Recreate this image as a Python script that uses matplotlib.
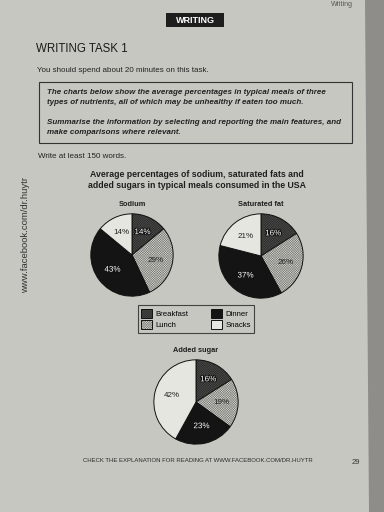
import matplotlib.pyplot as plt
from matplotlib.patches import Rectangle, Polygon
from matplotlib.colors import to_rgba
import matplotlib.patheffects as pe

plt.rcParams['font.family'] = ['Liberation Sans', 'DejaVu Sans']
plt.rcParams['hatch.linewidth'] = 0.35

# Data
meals = ['Breakfast', 'Lunch', 'Dinner', 'Snacks']
sodium = [14, 29, 43, 14]
saturated_fat = [16, 26, 37, 21]
added_sugar = [16, 19, 23, 42]

W, H = 384, 512
PAPER = '#c7c7c1'
fig = plt.figure(figsize=(W / 100, H / 100), dpi=100, facecolor=PAPER)

# overlay axes in pixel coordinates
bg = fig.add_axes([0, 0, 1, 1])
bg.set_xlim(0, W)
bg.set_ylim(H, 0)
bg.axis('off')

# dark strip beyond the page edge
bg.add_patch(Polygon([[365, 0], [384, 0], [384, 512], [369, 512]], closed=True,
                     facecolor='#8e8d89', edgecolor='none'))

# running head
bg.text(331, 4, 'Writing', fontsize=5, va='center', color='#555555')

# header block
bg.add_patch(Rectangle((166, 13), 58, 14, facecolor='#1e1e1e', edgecolor='none'))
bg.text(195, 20.5, 'WRITING', color='white', fontsize=6.5, fontweight='bold',
        ha='center', va='center')

bg.text(36, 49, 'WRITING TASK 1', fontsize=8.3, color='#1a1a1a', va='center')
bg.text(37, 70, 'You should spend about 20 minutes on this task.', fontsize=5.8,
        color='#222222', va='center')

# task box
bg.add_patch(Rectangle((39, 82), 313, 61, facecolor='none', edgecolor='#333333', lw=0.8))
box_lines = [
    (93, 'The charts below show the average percentages in typical meals of three'),
    (103, 'types of nutrients, all of which may be unhealthy if eaten too much.'),
    (122, 'Summarise the information by selecting and reporting the main features, and'),
    (132, 'make comparisons where relevant.'),
]
for y, s in box_lines:
    bg.text(47, y, s, fontsize=5.8, fontweight='bold', fontstyle='italic',
            color='#222222', va='center')

bg.text(38, 157, 'Write at least 150 words.', fontsize=5.75, color='#222222', va='center')

# chart title
bg.text(197, 180, 'Average percentages of sodium, saturated fats and\n'
        'added sugars in typical meals consumed in the USA',
        fontsize=6.3, fontweight='bold', ha='center', va='center',
        color='#1e1e1e', linespacing=1.15)

# watermark
bg.text(26, 235, 'www.facebook.com/dr.huytr', rotation=90, fontsize=6.8,
        color='#333333', ha='center', va='center')

# footer
bg.text(83, 461, 'CHECK THE EXPLANATION FOR READING AT WWW.FACEBOOK.COM/DR.HUYTR',
        fontsize=4.3, color='#2a2a2a', va='center')
bg.text(352, 462, '29', fontsize=5.5, color='#333333', va='center')

colors = ['#262626', '#dadad4', '#141414', '#e6e6e0']
hatch_colors = ['#4a4a48', '#7a7a76', None, None]
hatches = ['x' * 14, 'x' * 14, None, None]
outlined = [True, False, True, False]


def set_hatch_color(patch, color):
    if hasattr(patch, 'set_hatchcolor'):
        patch.set_hatchcolor(color)
    else:
        patch._hatch_color = to_rgba(color)


def draw_pie(cx, cy, r, values, title):
    ax = fig.add_axes([(cx - r) / W, 1 - (cy + r) / H, 2 * r / W, 2 * r / H])
    wedges, _, autotexts = ax.pie(
        values, colors=colors, startangle=90, counterclock=False,
        autopct='%d%%', pctdistance=0.6, radius=1,
        wedgeprops=dict(edgecolor='#111111', linewidth=0.7))
    for w, h, hc in zip(wedges, hatches, hatch_colors):
        if h:
            w.set_hatch(h)
            set_hatch_color(w, hc)
    for t, o in zip(autotexts, outlined):
        t.set_fontsize(5.8)
        if o:
            t.set_color('white')
            t.set_path_effects([pe.withStroke(linewidth=1.4, foreground='#111111')])
        else:
            t.set_color('#222222')
    ax.set_xlim(-1.02, 1.02)
    ax.set_ylim(-1.02, 1.02)
    ax.axis('off')
    bg.text(cx, cy - r - 9, title, fontsize=5.3, fontweight='bold',
            ha='center', va='center', color='#1e1e1e')
    return wedges


wedges = draw_pie(132, 255, 42, sodium, 'Sodium')
draw_pie(261, 256, 43, saturated_fat, 'Saturated fat')
draw_pie(196, 402, 43, added_sugar, 'Added sugar')

# legend
leg = fig.legend(wedges, meals, ncol=2, loc='center',
                 bbox_to_anchor=(196 / W, 1 - 319 / H), fontsize=5.6,
                 frameon=True, fancybox=False, edgecolor='#222222',
                 handlelength=1.4, handleheight=1.4, columnspacing=3.0,
                 handletextpad=0.4, borderpad=0.45, labelspacing=0.3)
leg.get_frame().set_facecolor(PAPER)
leg.get_frame().set_linewidth(0.8)

fig.savefig('out.png', dpi=100, facecolor=PAPER)
